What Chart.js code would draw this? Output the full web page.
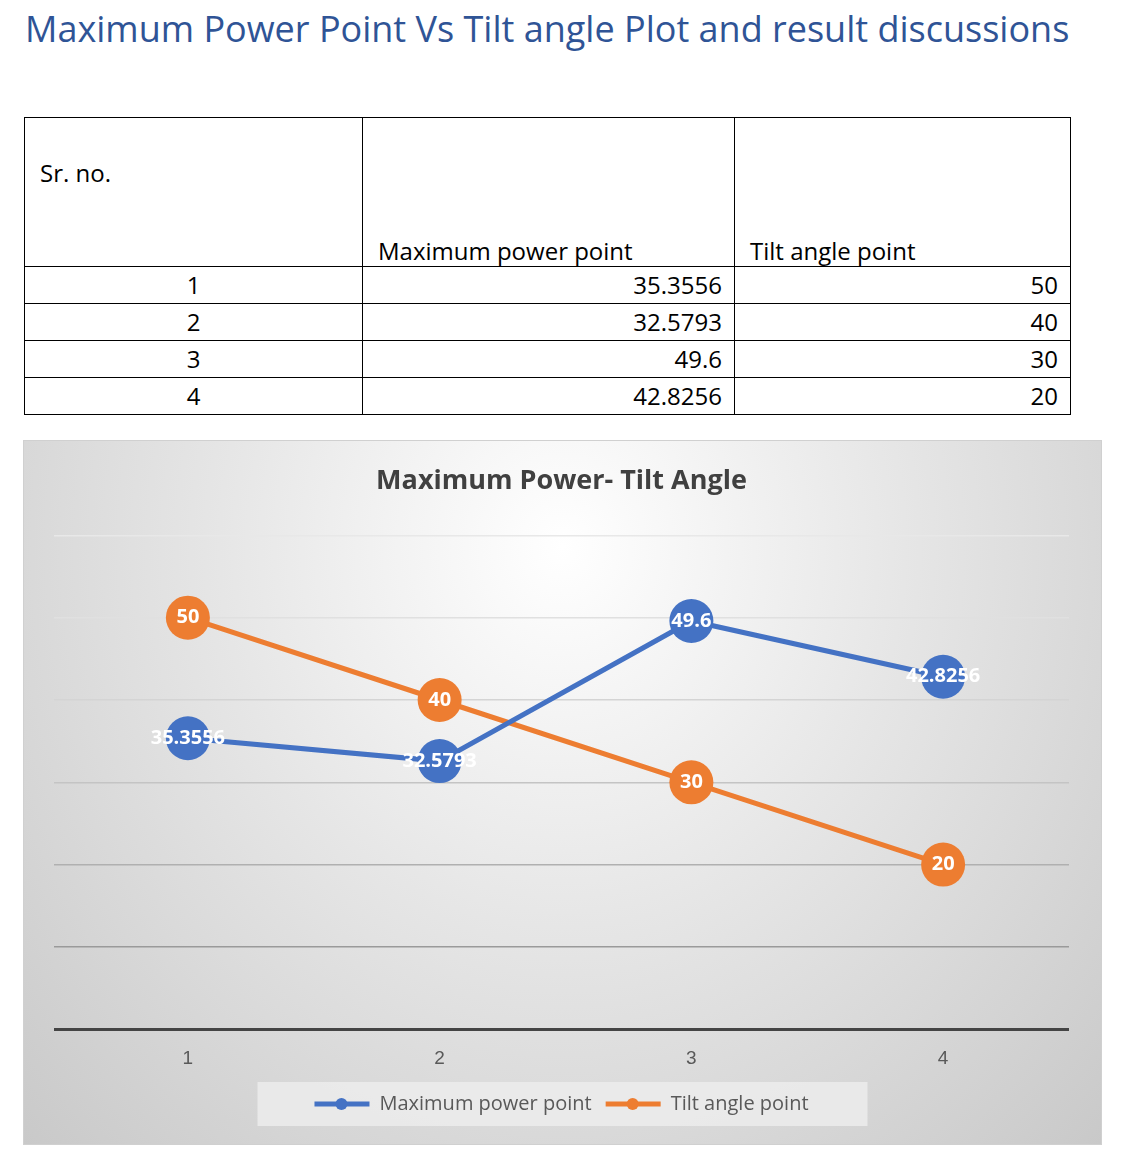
<!DOCTYPE html>
<html>
<head>
<meta charset="utf-8">
<script src="https://cdn.jsdelivr.net/npm/chart.js@4"></script>
<style>
  body { margin: 0; background: #fff; font-family: "Open Sans", "Noto Sans", sans-serif; }
  h1 { position: absolute; left: 25px; top: 4px; margin: 0; font-weight: 400; font-size: 36px; color: #2F5496; white-space: nowrap; }
  table { position: absolute; left: 24px; top: 117px; width: 1047px; border-collapse: collapse; font-size: 24px; line-height: 30px; color: #000; }
  td { border: 1px solid #000; padding: 0 12px; height: 36px; }
  tr.head td { height: 108px; vertical-align: bottom; padding-bottom: 0; padding-left: 15px; }
  tr.head td:first-child { vertical-align: top; padding-top: 40px; }
  td.c { text-align: center; }
  td.r { text-align: right; }
  #wrap { position: absolute; left: 23px; top: 440px; width: 1077px; height: 703px;
    background: radial-gradient(ellipse at 50% 15%, #ffffff 0%, #e6e6e6 45%, #c9c9c9 100%); border: 1px solid #d0d0d0; }
</style>
</head>
<body>
<h1>Maximum Power Point Vs Tilt angle Plot and result discussions</h1>
<table id="tbl">
  <tr class="head"><td style="width:310px">Sr. no.</td><td style="width:344px">Maximum power point</td><td>Tilt angle point</td></tr>
</table>
<div id="wrap"><canvas id="chart"></canvas></div>
<script>
const categories = ["1", "2", "3", "4"];
const maxPower = [35.3556, 32.5793, 49.6, 42.8256];
const tiltAngle = [50, 40, 30, 20];
const powerText = ["35.3556", "32.5793", "49.6", "42.8256"];

const tbody = document.getElementById("tbl");
categories.forEach((c, i) => {
  tbody.insertAdjacentHTML("beforeend",
    `<tr><td class="c">${c}</td><td class="r">${powerText[i]}</td><td class="r">${tiltAngle[i]}</td></tr>`);
});

// data labels on the markers + light box behind the legend
const labelPlugin = {
  id: "labels",
  afterDatasetsDraw(chart) {
    const ctx = chart.ctx;
    ctx.save();
    ctx.font = "bold 20px 'Open Sans', sans-serif";
    ctx.fillStyle = "#fff";
    ctx.textAlign = "center";
    ctx.textBaseline = "middle";
    chart.data.datasets.forEach((ds, di) => {
      chart.getDatasetMeta(di).data.forEach((pt, i) => {
        const txt = di === 0 ? powerText[i] : String(ds.data[i]);
        ctx.fillText(txt, pt.x, pt.y);
      });
    });
    ctx.restore();
  },
  beforeDraw(chart) {
    const lg = chart.legend;
    if (!lg) return;
    const ctx = chart.ctx;
    ctx.save();
    ctx.fillStyle = "rgba(235,235,235,0.9)";
    const w = 610, x = (chart.width - w) / 2;
    ctx.fillRect(x, lg.top + 2, w, 44);
    ctx.restore();
  },
  afterDraw(chart) {
    // small dot in the middle of each legend line
    const lg = chart.legend;
    if (!lg || !lg.legendHitBoxes) return;
    const ctx = chart.ctx;
    ctx.save();
    lg.legendHitBoxes.forEach((b, i) => {
      ctx.fillStyle = chart.data.datasets[i].borderColor;
      ctx.beginPath();
      ctx.arc(b.left + 27, b.top + b.height / 2, 6, 0, Math.PI * 2);
      ctx.fill();
    });
    ctx.restore();
  }
};

const gridColors = ["#444", "#9a9a9a", "#b0b0b0", "#c4c4c4", "#d4d4d4", "#e0e0e0", "#e8e8e8"];

new Chart(document.getElementById("chart"), {
  type: "line",
  data: {
    labels: categories,
    datasets: [
      { label: "Maximum power point", data: maxPower, borderColor: "#4472C4", backgroundColor: "#4472C4",
        borderWidth: 5, pointRadius: 22, pointHoverRadius: 22, pointBorderWidth: 0 },
      { label: "Tilt angle point", data: tiltAngle, borderColor: "#ED7D31", backgroundColor: "#ED7D31",
        borderWidth: 5, pointRadius: 22, pointHoverRadius: 22, pointBorderWidth: 0 }
    ]
  },
  options: {
    responsive: true,
    maintainAspectRatio: false,
    animation: false,
    layout: { padding: { left: 30, right: 32, top: 14, bottom: 20 } },
    plugins: {
      title: { display: true, text: "Maximum Power- Tilt Angle", color: "#404040",
        font: { size: 27, weight: "bold", family: "'Open Sans', sans-serif" }, padding: { top: 10, bottom: 38 } },
      legend: { position: "bottom", labels: { color: "#595959", font: { size: 20, family: "'Open Sans', sans-serif" },
        boxWidth: 55, boxHeight: 5, padding: 14,
        generateLabels: chart => chart.data.datasets.map((ds, i) => ({
          text: ds.label, fillStyle: ds.borderColor, strokeStyle: ds.borderColor, lineWidth: 0,
          fontColor: "#595959", datasetIndex: i, hidden: false })) } },
      tooltip: { enabled: false }
    },
    scales: {
      x: { offset: true, grid: { display: false }, border: { display: false },
        ticks: { color: "#595959", font: { size: 19 }, padding: 10 } },
      y: { min: 0, max: 60, ticks: { stepSize: 10, display: false },
        border: { display: false },
        grid: { color: ctx => gridColors[ctx.index] || "#ddd", lineWidth: ctx => ctx.index === 0 ? 3 : 1.5 } }
    }
  },
  plugins: [labelPlugin]
});
</script>
</body>
</html>
